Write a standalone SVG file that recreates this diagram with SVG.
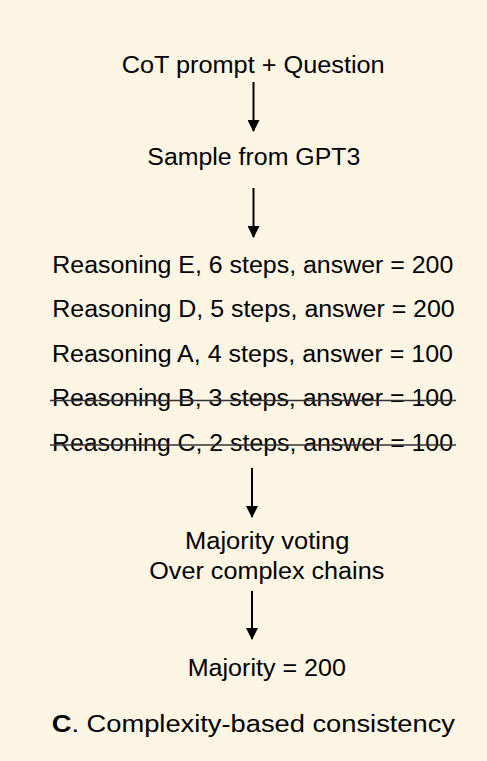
<svg xmlns="http://www.w3.org/2000/svg" width="487" height="761" viewBox="0 0 487 761">
<style>
text{font-family:"Liberation Sans",Arial,Helvetica,sans-serif;font-size:23.5px;fill:#000;}
.arrow{stroke:#000;stroke-width:2;fill:none;marker-end:url(#ah);}
.strike{stroke:#333;stroke-width:1.5;}
</style>
<defs>
<marker id="ah" markerWidth="6" markerHeight="6" refX="5.5" refY="3" orient="auto" markerUnits="strokeWidth">
<path d="M0,0 L6,3 L0,6 Z" fill="#000"/>
</marker>
</defs>
<rect width="487" height="761" fill="#fdf5e4"/>
<g id="connectors">
<line class="arrow" x1="253.5" y1="82" x2="253.5" y2="131"/>
<line class="arrow" x1="253.5" y1="188" x2="253.5" y2="237"/>
<line class="arrow" x1="252" y1="468" x2="252" y2="517"/>
<line class="arrow" x1="252" y1="591" x2="252" y2="639"/>
</g>
<g id="prompt"><text x="121.7" y="72.7" textLength="263" lengthAdjust="spacingAndGlyphs">CoT prompt + Question</text></g>
<g id="sample"><text x="147.3" y="165" textLength="213" lengthAdjust="spacingAndGlyphs">Sample from GPT3</text></g>
<g id="reasonings">
<text x="52.3" y="273.3" textLength="401" lengthAdjust="spacingAndGlyphs">Reasoning E, 6 steps, answer = 200</text>
<text x="52.3" y="317.3" textLength="402.4" lengthAdjust="spacingAndGlyphs">Reasoning D, 5 steps, answer = 200</text>
<text x="52" y="361.7" textLength="401" lengthAdjust="spacingAndGlyphs">Reasoning A, 4 steps, answer = 100</text>
<text x="52" y="406" textLength="401" lengthAdjust="spacingAndGlyphs">Reasoning B, 3 steps, answer = 100</text>
<line class="strike" x1="50" y1="400.5" x2="456" y2="400.5"/>
<text x="52" y="450.5" textLength="401" lengthAdjust="spacingAndGlyphs">Reasoning C, 2 steps, answer = 100</text>
<line class="strike" x1="50" y1="445" x2="456" y2="445"/>
</g>
<g id="voting">
<text x="185" y="549.3" textLength="164.3" lengthAdjust="spacingAndGlyphs">Majority voting</text>
<text x="149.3" y="579.3" textLength="235" lengthAdjust="spacingAndGlyphs">Over complex chains</text>
</g>
<g id="result"><text x="187.7" y="676" textLength="158.3" lengthAdjust="spacingAndGlyphs">Majority = 200</text></g>
<g id="caption"><text x="51.7" y="731.7" textLength="403.3" lengthAdjust="spacingAndGlyphs"><tspan font-weight="bold">C</tspan>. Complexity-based consistency</text></g>
</svg>
